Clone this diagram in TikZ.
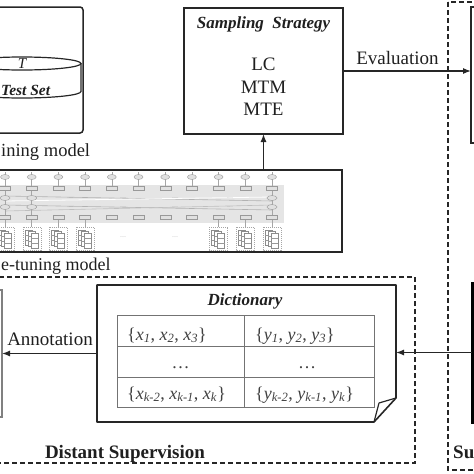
\documentclass[tikz,border=0pt]{standalone}
\usepackage{fontspec}
\setmainfont{Liberation Serif}
\usetikzlibrary{arrows.meta,calc}
\newcommand\dvar[2]{\textit{#1}\textsubscript{\textit{#2}}}
\begin{document}
\begin{tikzpicture}[x=1pt,y=-1pt,
  boxline/.style={draw=black!85,line width=1.8pt},
  dashline/.style={draw=black!85,line width=1.3pt,dash pattern=on 5pt off 3pt},
  arr/.style={draw=black!85,line width=1.2pt,-{Latex[length=8pt,width=6pt]}},
  txt/.style={font=\fontsize{19}{22}\selectfont,text=black!88,inner sep=0pt},
  bitxt/.style={font=\fontsize{17}{20}\selectfont\bfseries\itshape,text=black!88,inner sep=0pt},
  btxt/.style={font=\fontsize{19}{22}\selectfont\bfseries,text=black!88,inner sep=0pt},
  celltxt/.style={font=\fontsize{18}{21}\selectfont,text=black!75,inner sep=0pt},
  nnline/.style={draw=black!35,line width=0.5pt},
  nnfill/.style={fill=black!12,draw=black!40,line width=0.4pt},
  nndots/.style={font=\fontsize{6}{6}\selectfont,text=black!40,inner sep=0pt},
  emptybox/.style={inner sep=0pt,outer sep=0pt,anchor=north west}
]
\useasboundingbox (0,0) rectangle (474,474);

% ---------- top-left test set box ----------
\node[emptybox,draw=black!85,line width=1.5pt,rounded corners=3pt,minimum width=103pt,minimum height=126pt] (testbox) at (-20,7) {};
\draw[black!85,line width=1.2pt] (22,63.5) ellipse (59pt and 6.5pt);
\draw[black!85,line width=1.2pt] (81,63.5) -- (81,91.5) arc[start angle=0,end angle=-180,x radius=59pt,y radius=6.5pt] -- (-37,63.5);
\node[font=\fontsize{15}{15}\selectfont\itshape,text=black!88,inner sep=0pt,anchor=base] (tlab) at (22,68) {T};
\node[bitxt,font=\fontsize{15.5}{18}\selectfont\bfseries\itshape,anchor=base west] (testset) at (1,95) {Test Set};
\node[txt,font=\fontsize{18.5}{22}\selectfont,anchor=base west] (trainlab) at (1,156) {ining model};

% ---------- sampling strategy ----------
\node[emptybox,boxline,minimum width=159pt,minimum height=126pt] (samp) at (184,8) {};
\node[bitxt,anchor=base] (samptitle) at (263.5,28) {Sampling\ \ Strategy};
\node[txt,anchor=base] (lc) at (263.5,70) {LC};
\node[txt,anchor=base] (mtm) at (263.5,93) {MTM};
\node[txt,anchor=base] (mte) at (263.5,115) {MTE};

% ---------- evaluation target ----------
\node[emptybox,draw=black!85,line width=1.6pt,minimum width=30pt,minimum height=136pt] (evalbox) at (471,7) {};
\draw[arr] (samp.east) -- (samp.east -| evalbox.west);
\node[txt,anchor=base] (evallab) at (397.5,64) {Evaluation};

% ---------- supervision dashed frame ----------
\draw[dashline] (448,2) rectangle (500,470);

% ---------- fine-tuning model (network picture) ----------
\fill[black!10] (-5,185) rectangle (284,223);
\draw[black!30,line width=0.6pt] (5,196) -- (272,201);
\draw[white,line width=0.8pt] (5,201) -- (272,197);
\draw[black!30,line width=0.6pt] (5,205) -- (272,210);
\draw[black!25,line width=0.6pt] (5,211) -- (272,205);
\foreach \i in {0,...,10}{
  \pgfmathsetmacro\cx{5+26.7*\i}
  \draw[nnline] (\cx,172) -- (\cx,186);
  \filldraw[nnfill] (\cx,177) ellipse (4.5pt and 2.5pt);
  \filldraw[nnfill] (\cx-5.5,186) rectangle (\cx+5.5,190.5);
  \filldraw[nnfill] (\cx-5.5,215) rectangle (\cx+5.5,219.5);
}
\foreach \i in {0,1,10}{
  \pgfmathsetmacro\cx{5+26.7*\i}
  \draw[nnline] (\cx,190.5) -- (\cx,215);
  \filldraw[nnfill] (\cx,198) ellipse (5pt and 2.5pt);
  \filldraw[nnfill] (\cx,207) ellipse (5pt and 2.5pt);
}
\foreach \x in {70,123,175,230}{
  \node[nndots] at (\x,198) {\dots};
  \node[nndots] at (\x,207) {\dots};
}
\node[nndots] at (123,237) {\dots};
\node[nndots] at (175,237) {\dots};
\foreach \i in {0,1,2,3,8,9,10}{
  \pgfmathsetmacro\cx{5+26.7*\i}
  \draw[nnline] (\cx,219.5) -- (\cx,227);
  \draw[black!35,line width=0.4pt,dash pattern=on 1pt off 1pt] (\cx-9,227) rectangle (\cx+9,250);
  \foreach \k in {0,1,2}{
    \filldraw[fill=white,draw=black!45,line width=0.4pt] (\cx-7+3*\k,230+1.5*\k) rectangle (\cx+0+3*\k,245+1.5*\k);
    \draw[black!40,line width=0.3pt] (\cx-7+3*\k,235+1.5*\k) -- (\cx+3*\k,235+1.5*\k);
    \draw[black!40,line width=0.3pt] (\cx-7+3*\k,240+1.5*\k) -- (\cx+3*\k,240+1.5*\k);
  }
}
\node[emptybox,boxline,minimum width=352pt,minimum height=82pt] (nn) at (-10,170) {};
\draw[arr] (nn.north -| samp.south) -- (samp.south);
\node[txt,font=\fontsize{18}{21}\selectfont,anchor=base west] (ftlab) at (1,270) {e-tuning model};

% ---------- distant supervision ----------
\draw[dashline] (-10,277) rectangle (415,463);
\node[btxt,anchor=base] (dslab) at (125,458) {Distant Supervision};

\node[emptybox,minimum width=299pt,minimum height=137pt] (dict) at (97,285) {};
\draw[black!85,line width=1.6pt,line join=round] (dict.north west) -- (dict.north east) -- (396,398) -- (374,422) -- (dict.south west) -- cycle;
\draw[black!85,line width=1.2pt,line join=round] (396,398) -- (379,403) -- (374,422);
\node[bitxt,anchor=base] (dicttitle) at (245,305) {Dictionary};
\draw[black!55,line width=0.8pt] (117,315) rectangle (374,407);
\draw[black!55,line width=0.8pt] (117,346) -- (374,346);
\draw[black!55,line width=0.8pt] (117,377) -- (374,377);
\draw[black!55,line width=0.8pt] (244,315) -- (244,407);
\node[celltxt,anchor=base west] (c11) at (127,340) {\{\dvar{x}{1}, \dvar{x}{2}, \dvar{x}{3}\}};
\node[celltxt,anchor=base] (c21) at (180.5,368) {\dots};
\node[celltxt,anchor=base west] (c31) at (127,399) {\{\dvar{x}{k-2}, \dvar{x}{k-1}, \dvar{x}{k}\}};
\node[celltxt,anchor=base west] (c12) at (255,340) {\{\dvar{y}{1}, \dvar{y}{2}, \dvar{y}{3}\}};
\node[celltxt,anchor=base] (c22) at (307,368) {\dots};
\node[celltxt,anchor=base west] (c32) at (255,399) {\{\dvar{y}{k-2}, \dvar{y}{k-1}, \dvar{y}{k}\}};

% ---------- left annotated box ----------
\node[emptybox,draw=black!50,line width=2.5pt,minimum width=12pt,minimum height=127pt] (leftbox) at (-10,290) {};
\draw[arr] (dict.west) -- (dict.west -| leftbox.east);
\node[txt,anchor=base] (annlab) at (50,345) {Annotation};

% ---------- supervised box ----------
\node[emptybox,draw=black,line width=3pt,minimum width=30pt,minimum height=139pt] (supbox) at (472,283) {};
\draw[arr] (supbox.west) -- (supbox.west -| dict.east);
\node[btxt,anchor=base west] (sulab) at (453,458) {Su};
\end{tikzpicture}
\end{document}
